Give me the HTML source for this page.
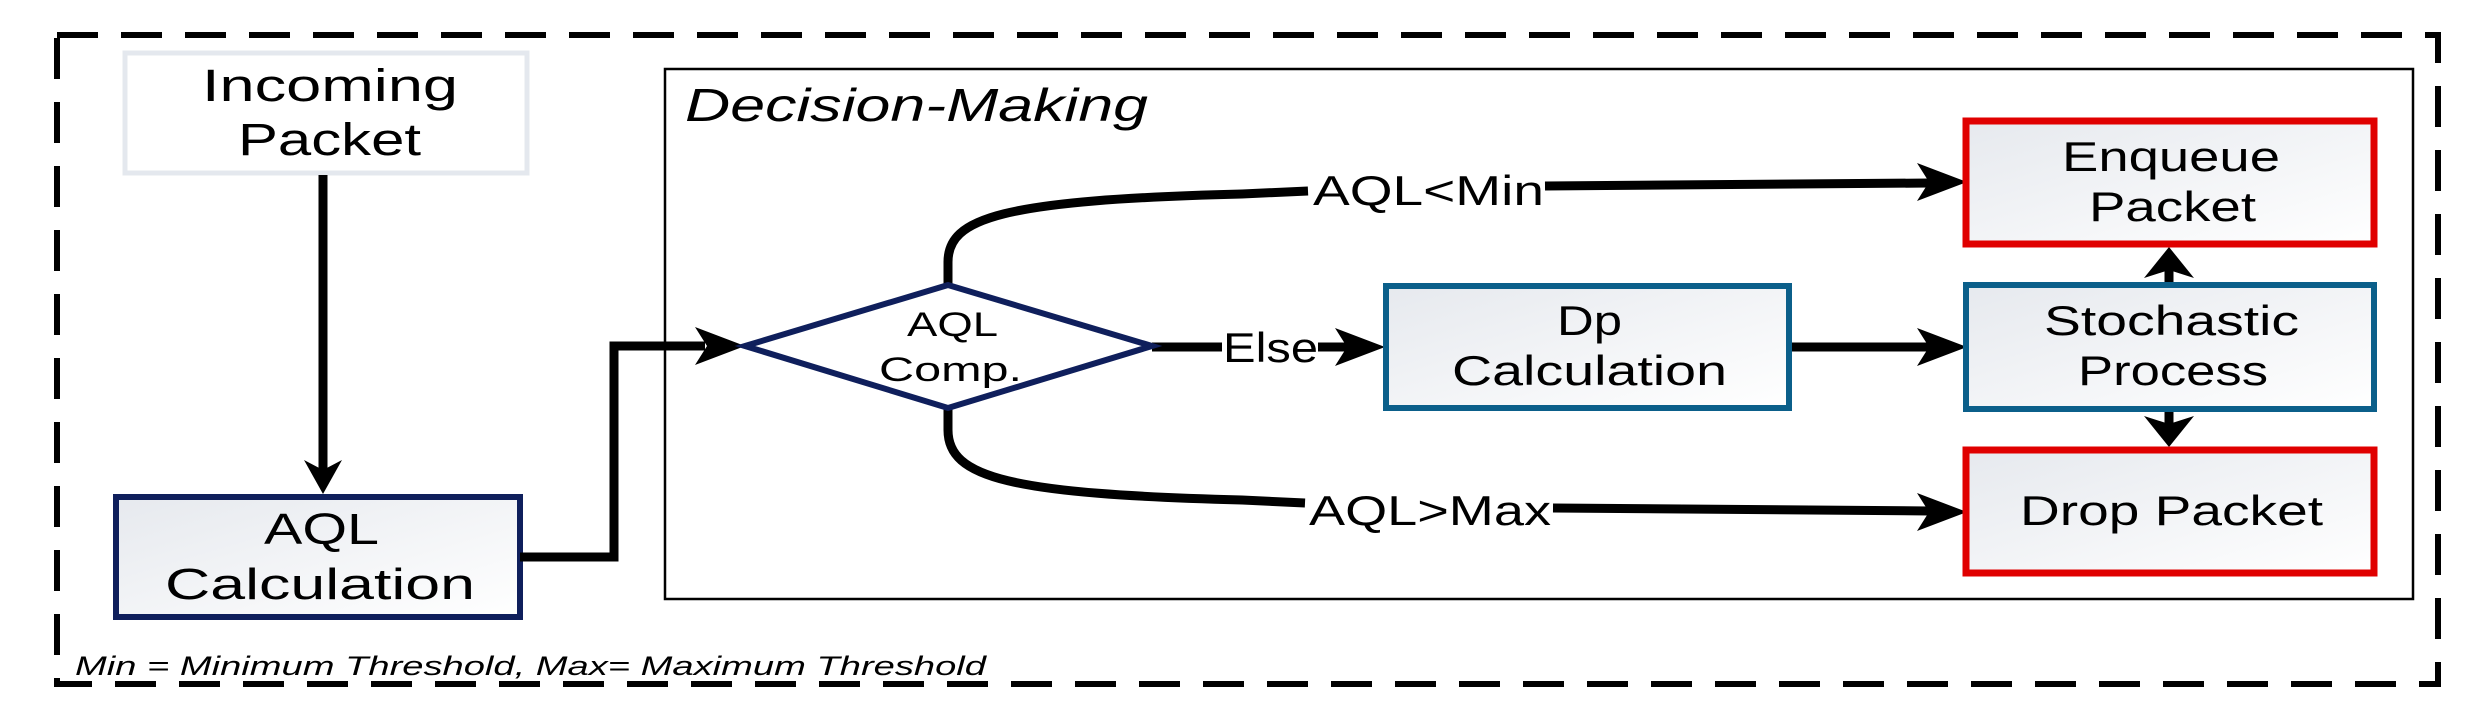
<!DOCTYPE html>
<html><head><meta charset="utf-8"><style>
html,body{margin:0;padding:0;background:#fff;}
svg{display:block;}
text{font-family:"Liberation Sans",sans-serif;fill:#000;}
</style></head><body>
<svg width="2484" height="728" viewBox="0 0 2484 728" xmlns="http://www.w3.org/2000/svg">
<defs>
<linearGradient id="g" x1="0" y1="0" x2="1" y2="1">
<stop offset="0" stop-color="#e6e9ee"/><stop offset="1" stop-color="#ffffff"/>
</linearGradient>
</defs>
<rect x="57" y="35" width="2381" height="649" fill="none" stroke="#000" stroke-width="6" stroke-dasharray="41,23"/>
<rect x="665" y="69" width="1748" height="530" fill="none" stroke="#000" stroke-width="2.5"/>
<text x="685" y="121" font-size="46" font-style="italic" textLength="463" lengthAdjust="spacingAndGlyphs">Decision-Making</text>

<rect x="125" y="53" width="402" height="120" fill="#fff" stroke="#e4e8ee" stroke-width="5"/>
<text x="202" y="101" font-size="45" textLength="256" lengthAdjust="spacingAndGlyphs">Incoming</text>
<text x="238" y="155" font-size="45" textLength="183" lengthAdjust="spacingAndGlyphs">Packet</text>

<rect x="116" y="497" width="404" height="120" fill="url(#g)" stroke="#0f1f5c" stroke-width="6"/>
<text x="264" y="544" font-size="44" textLength="115" lengthAdjust="spacingAndGlyphs">AQL</text>
<text x="165" y="599" font-size="44" textLength="310" lengthAdjust="spacingAndGlyphs">Calculation</text>

<g stroke="#000" stroke-width="9" fill="none">
<line x1="323" y1="175" x2="323" y2="470"/>
<polyline points="520,557 614,557 614,346 705,346"/>
<path d="M948,285 V262 C948,218 1000,200 1242,194 L1308,191"/>
<line x1="1545" y1="186" x2="1930" y2="183"/>
<path d="M948,408 V430 C948,478 1010,494 1242,500 L1305,503"/>
<line x1="1553" y1="508" x2="1930" y2="511"/>
<line x1="1152" y1="347" x2="1222" y2="347"/>
<line x1="1318" y1="347" x2="1348" y2="347"/>
<line x1="1791" y1="347" x2="1930" y2="347"/>
<line x1="2169" y1="282" x2="2169" y2="262"/>
<line x1="2169" y1="412" x2="2169" y2="432"/>
</g>
<g fill="#000">
<polygon points="323,494 304,460 323,470 342,460"/>
<polygon points="745,346 695,327 707,346 695,365"/>
<polygon points="1385,347 1335,328 1347,347 1335,366"/>
<polygon points="1967,182 1917,163 1929,182 1917,201"/>
<polygon points="1967,347 1917,328 1929,347 1917,366"/>
<polygon points="1967,512 1917,493 1929,512 1917,531"/>
<polygon points="2169,247 2144,278 2169,270 2194,278"/>
<polygon points="2169,447 2144,416 2169,424 2194,416"/>
</g>

<polygon points="745,346 948,285 1152,346 948,408" fill="#fff" stroke="#0f1f5c" stroke-width="6"/>
<text x="907" y="336" font-size="34" textLength="91" lengthAdjust="spacingAndGlyphs">AQL</text>
<text x="879" y="381" font-size="34" textLength="143" lengthAdjust="spacingAndGlyphs">Comp.</text>

<text x="1313" y="205" font-size="42" textLength="231" lengthAdjust="spacingAndGlyphs">AQL&lt;Min</text>
<text x="1309" y="525" font-size="42" textLength="242" lengthAdjust="spacingAndGlyphs">AQL&gt;Max</text>
<text x="1223" y="362" font-size="42" textLength="95" lengthAdjust="spacingAndGlyphs">Else</text>

<rect x="1386" y="286" width="403" height="122" fill="url(#g)" stroke="#0b5f8a" stroke-width="6"/>
<text x="1557" y="335" font-size="42" textLength="65" lengthAdjust="spacingAndGlyphs">Dp</text>
<text x="1452" y="385" font-size="42" textLength="275" lengthAdjust="spacingAndGlyphs">Calculation</text>

<rect x="1966" y="121" width="408" height="123" fill="url(#g)" stroke="#e00000" stroke-width="7"/>
<text x="2062" y="171" font-size="42" textLength="218" lengthAdjust="spacingAndGlyphs">Enqueue</text>
<text x="2089" y="221" font-size="42" textLength="167" lengthAdjust="spacingAndGlyphs">Packet</text>

<rect x="1966" y="285" width="408" height="124" fill="url(#g)" stroke="#0b5f8a" stroke-width="6"/>
<text x="2044" y="335" font-size="42" textLength="255" lengthAdjust="spacingAndGlyphs">Stochastic</text>
<text x="2078" y="385" font-size="42" textLength="190" lengthAdjust="spacingAndGlyphs">Process</text>

<rect x="1966" y="450" width="408" height="123" fill="url(#g)" stroke="#e00000" stroke-width="7"/>
<text x="2020" y="525" font-size="42" textLength="303" lengthAdjust="spacingAndGlyphs">Drop Packet</text>

<text x="75" y="675" font-size="27" font-style="italic" textLength="911" lengthAdjust="spacingAndGlyphs">Min = Minimum Threshold, Max= Maximum Threshold</text>
</svg>
</body></html>
